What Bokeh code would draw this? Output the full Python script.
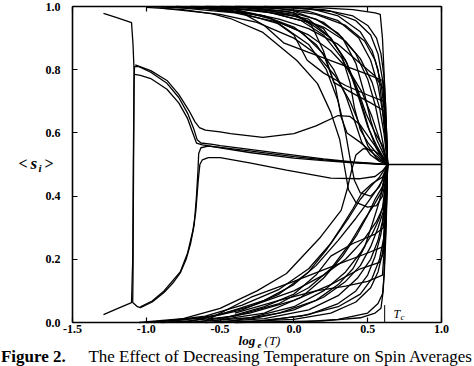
from bokeh.plotting import figure
from bokeh.models import Label, LinearAxis, FixedTicker, Range1d
from bokeh.embed import file_html
from bokeh.resources import INLINE

# ---------------- data ----------------
x_ticks = [-1.5, -1.0, -0.5, 0.0, 0.5, 1.0]
x_tick_labels = ["-1.5", "-1.0", "-0.5", "0.0", "0.5", "1.0"]
y_ticks = [0.0, 0.2, 0.4, 0.6, 0.8, 1.0]
y_tick_labels = ["0.0", "0.2", "0.4", "0.6", "0.8", "1.0"]

# left-hand bifurcation structure
A = [(-1.29,0.978),(-1.20,0.965),(-1.10,0.949),(-1.09,0.88),(-1.083,0.8),(-1.085,0.6),(-1.088,0.35),(-1.09,0.15),(-1.092,0.063),(-1.06,0.05),(-1.04,0.047),(-0.96,0.065),(-0.88,0.095),(-0.82,0.125),(-0.77,0.157),(-0.73,0.2),(-0.70,0.25),(-0.675,0.31),(-0.66,0.4),(-0.65,0.48),(-0.645,0.535),(-0.63,0.553),(-0.58,0.558),(-0.5,0.554),(-0.3,0.543),(0.0,0.525),(0.2,0.515),(0.4,0.507),(0.635,0.5)]
B = [(-1.29,0.025),(-1.20,0.043),(-1.10,0.063),(-1.092,0.2),(-1.088,0.5),(-1.083,0.75),(-1.08,0.81),(-1.05,0.81),(-0.97,0.792),(-0.86,0.757),(-0.78,0.712),(-0.72,0.662),(-0.68,0.615),(-0.655,0.578),(-0.63,0.568),(-0.55,0.564),(-0.5,0.56),(-0.3,0.548),(0.0,0.53),(0.2,0.518),(0.4,0.508),(0.635,0.5)]
C1 = [(-1.075,0.815),(-0.97,0.797),(-0.86,0.766),(-0.78,0.722),(-0.71,0.67),(-0.67,0.635),(-0.64,0.617),(-0.6,0.609),(-0.5,0.603),(-0.43,0.598),(-0.21,0.586),(0.0,0.598),(0.15,0.622),(0.3,0.655),(0.38,0.652),(0.45,0.625),(0.52,0.578),(0.58,0.54),(0.635,0.5)]
C2 = [(-1.08,0.785),(-1.04,0.782),(-0.97,0.772),(-0.86,0.738),(-0.78,0.695),(-0.72,0.645),(-0.685,0.6),(-0.66,0.568),(-0.62,0.562),(-0.5,0.553),(-0.3,0.538),(0.0,0.52),(0.2,0.512),(0.4,0.505),(0.635,0.5)]
D = [(-1.04,0.05),(-0.96,0.068),(-0.88,0.1),(-0.77,0.16),(-0.72,0.22),(-0.685,0.29),(-0.665,0.35),(-0.648,0.45),(-0.637,0.5),(-0.62,0.515),(-0.58,0.522),(-0.5,0.522),(-0.3,0.505),(-0.05,0.482),(0.25,0.457),(0.45,0.455),(0.55,0.462),(0.6,0.48),(0.635,0.5)]

# upper family (spins starting near 1)
U01 = [(-1.0,0.997),(-0.75,0.99),(-0.55,0.977),(-0.43,0.962),(-0.21,0.918),(0.02,0.829),(0.16,0.756),(0.25,0.665),(0.31,0.58),(0.34,0.5),(0.37,0.42),(0.42,0.38),(0.5,0.365),(0.56,0.37),(0.6,0.4),(0.62,0.45),(0.635,0.5)]
U02 = [(-0.95,0.999),(-0.6,0.993),(-0.35,0.978),(-0.1,0.945),(0.1,0.88),(0.22,0.8),(0.3,0.7),(0.35,0.6),(0.38,0.52),(0.41,0.45),(0.45,0.41),(0.52,0.4),(0.58,0.43),(0.615,0.47),(0.635,0.5)]
U03 = [(-0.85,0.999),(-0.5,0.993),(-0.2,0.97),(0.0,0.935),(0.15,0.88),(0.27,0.8),(0.35,0.72),(0.41,0.64),(0.46,0.57),(0.52,0.53),(0.58,0.51),(0.635,0.5)]
U04 = [(-0.8,1.0),(-0.45,0.995),(-0.15,0.98),(0.05,0.955),(0.2,0.91),(0.32,0.84),(0.4,0.77),(0.46,0.69),(0.51,0.61),(0.56,0.55),(0.6,0.52),(0.635,0.5)]
U05 = [(-0.7,1.0),(-0.35,0.996),(-0.05,0.985),(0.15,0.96),(0.3,0.915),(0.42,0.85),(0.5,0.77),(0.55,0.69),(0.59,0.6),(0.615,0.54),(0.635,0.5)]
U06 = [(-0.6,1.0),(-0.2,0.997),(0.1,0.985),(0.3,0.955),(0.44,0.9),(0.52,0.83),(0.57,0.75),(0.6,0.67),(0.62,0.58),(0.635,0.5)]
U07 = [(-0.5,1.0),(0.0,0.996),(0.25,0.985),(0.42,0.955),(0.52,0.91),(0.57,0.85),(0.6,0.77),(0.615,0.68),(0.627,0.58),(0.635,0.5)]
U08 = [(-0.4,1.0),(0.1,0.998),(0.4,0.99),(0.55,0.98),(0.585,0.975),(0.6,0.9),(0.61,0.8),(0.62,0.7),(0.628,0.6),(0.635,0.5)]
U09 = [(-0.9,0.995),(-0.5,0.975),(-0.25,0.95),(0.0,0.9),(0.15,0.85),(0.28,0.78),(0.38,0.7),(0.45,0.62),(0.5,0.56),(0.56,0.52),(0.635,0.5)]
U10 = [(-0.8,0.997),(-0.4,0.98),(-0.1,0.95),(0.1,0.91),(0.25,0.86),(0.37,0.8),(0.46,0.73),(0.53,0.65),(0.58,0.58),(0.61,0.54),(0.635,0.5)]
U11 = [(-0.6,0.998),(-0.3,0.99),(0.0,0.97),(0.2,0.935),(0.35,0.89),(0.45,0.835),(0.53,0.76),(0.58,0.68),(0.61,0.6),(0.635,0.5)]
U12 = [(-0.4,0.999),(-0.1,0.993),(0.15,0.975),(0.35,0.94),(0.48,0.89),(0.55,0.83),(0.59,0.76),(0.615,0.66),(0.635,0.5)]
U13 = [(-0.6,0.995),(-0.35,0.98),(-0.2,0.94),(-0.07,0.885),(0.1,0.855),(0.3,0.82),(0.5,0.785),(0.605,0.765),(0.615,0.7),(0.628,0.6),(0.635,0.5)]
U14 = [(-0.4,0.99),(-0.15,0.96),(0.0,0.91),(0.09,0.83),(0.2,0.79),(0.35,0.75),(0.5,0.72),(0.61,0.7),(0.62,0.64),(0.635,0.5)]
U15 = [(-0.3,0.998),(0.0,0.98),(0.12,0.94),(0.2,0.86),(0.27,0.76),(0.4,0.725),(0.52,0.695),(0.61,0.67),(0.62,0.6),(0.635,0.5)]
U16 = [(-0.2,0.99),(0.1,0.96),(0.25,0.9),(0.35,0.83),(0.43,0.74),(0.49,0.66),(0.55,0.6),(0.6,0.56),(0.635,0.5)]
U17 = [(0.0,0.985),(0.2,0.95),(0.33,0.9),(0.42,0.82),(0.48,0.72),(0.52,0.64),(0.56,0.58),(0.6,0.54),(0.635,0.5)]
U18 = [(-0.5,0.99),(-0.2,0.97),(0.05,0.92),(0.2,0.85),(0.28,0.75),(0.32,0.65),(0.36,0.6),(0.45,0.57),(0.55,0.53),(0.635,0.5)]
U19 = [(-0.3,0.995),(0.0,0.975),(0.2,0.93),(0.32,0.85),(0.38,0.76),(0.41,0.68),(0.45,0.61),(0.5,0.57),(0.57,0.53),(0.635,0.5)]
U20 = [(0.1,0.995),(0.3,0.97),(0.45,0.92),(0.53,0.86),(0.57,0.8),(0.59,0.72),(0.605,0.66),(0.62,0.6),(0.635,0.5)]
U21 = [(-0.2,1.0),(0.2,0.99),(0.4,0.97),(0.5,0.94),(0.56,0.9),(0.59,0.85),(0.61,0.78),(0.622,0.68),(0.635,0.5)]
U22 = [(-0.7,0.998),(-0.4,0.99),(-0.1,0.96),(0.1,0.93),(0.3,0.88),(0.45,0.82),(0.55,0.78),(0.605,0.74),(0.618,0.66),(0.635,0.5)]
U23 = [(-0.5,0.998),(-0.2,0.985),(0.1,0.95),(0.25,0.9),(0.36,0.82),(0.44,0.71),(0.5,0.62),(0.56,0.56),(0.635,0.5)]

# lower family (spins starting near 0)
L01 = [(-1.05,0.0),(-0.75,0.012),(-0.5,0.045),(-0.25,0.1),(-0.05,0.155),(0.18,0.27),(0.32,0.355),(0.36,0.42),(0.39,0.48),(0.42,0.53),(0.47,0.55),(0.54,0.545),(0.6,0.525),(0.635,0.5)]
L02 = [(-0.95,0.0),(-0.6,0.02),(-0.35,0.055),(-0.1,0.105),(0.1,0.17),(0.25,0.25),(0.37,0.33),(0.45,0.39),(0.52,0.43),(0.58,0.46),(0.635,0.5)]
L03 = [(-0.85,0.002),(-0.5,0.025),(-0.2,0.07),(0.0,0.12),(0.15,0.18),(0.3,0.26),(0.42,0.33),(0.5,0.38),(0.56,0.42),(0.6,0.45),(0.635,0.5)]
L04 = [(-0.8,0.001),(-0.4,0.02),(-0.1,0.06),(0.1,0.11),(0.25,0.17),(0.38,0.25),(0.47,0.32),(0.54,0.37),(0.59,0.41),(0.635,0.5)]
L05 = [(-0.7,0.001),(-0.3,0.015),(0.0,0.05),(0.2,0.1),(0.35,0.16),(0.45,0.22),(0.53,0.28),(0.58,0.33),(0.61,0.38),(0.635,0.5)]
L06 = [(-0.6,0.0),(-0.2,0.012),(0.1,0.04),(0.3,0.085),(0.43,0.14),(0.52,0.2),(0.57,0.26),(0.6,0.32),(0.62,0.4),(0.635,0.5)]
L07 = [(-0.5,0.0),(0.0,0.01),(0.25,0.03),(0.42,0.065),(0.52,0.11),(0.57,0.16),(0.6,0.22),(0.617,0.3),(0.628,0.4),(0.635,0.5)]
L08 = [(-0.4,0.0),(0.2,0.005),(0.45,0.015),(0.55,0.03),(0.59,0.045),(0.605,0.1),(0.615,0.2),(0.625,0.33),(0.635,0.5)]
L09 = [(-0.6,0.005),(-0.29,0.08),(0.0,0.13),(0.3,0.185),(0.5,0.22),(0.605,0.24),(0.618,0.35),(0.635,0.5)]
L10 = [(-0.5,0.01),(-0.2,0.05),(0.0,0.09),(0.15,0.15),(0.25,0.21),(0.4,0.25),(0.55,0.28),(0.607,0.3),(0.62,0.4),(0.635,0.5)]
L11 = [(-0.9,0.0),(-0.7,0.004),(-0.35,0.04),(-0.1,0.09),(0.1,0.16),(0.22,0.23),(0.32,0.3),(0.4,0.36),(0.46,0.41),(0.53,0.44),(0.6,0.46),(0.635,0.5)]
L12 = [(-0.45,0.003),(-0.1,0.03),(0.15,0.07),(0.3,0.12),(0.4,0.17),(0.48,0.24),(0.53,0.31),(0.57,0.37),(0.6,0.42),(0.635,0.5)]
L13 = [(-0.3,0.002),(0.05,0.02),(0.3,0.05),(0.45,0.09),(0.53,0.14),(0.58,0.2),(0.61,0.27),(0.625,0.38),(0.635,0.5)]
L14 = [(-0.55,0.005),(-0.2,0.03),(0.05,0.08),(0.2,0.14),(0.33,0.21),(0.43,0.28),(0.5,0.34),(0.55,0.39),(0.6,0.43),(0.635,0.5)]
L15 = [(-0.2,0.005),(0.1,0.025),(0.3,0.06),(0.42,0.1),(0.5,0.15),(0.55,0.21),(0.59,0.28),(0.615,0.36),(0.635,0.5)]
L16 = [(-0.4,0.03),(-0.1,0.07),(0.15,0.1),(0.35,0.115),(0.5,0.13),(0.6,0.15),(0.615,0.25),(0.628,0.38),(0.635,0.5)]
L17 = [(-1.0,0.0),(-0.6,0.015),(-0.3,0.05),(0.0,0.1),(0.2,0.15),(0.35,0.2),(0.47,0.26),(0.56,0.32),(0.6,0.36),(0.635,0.5)]
L18 = [(-0.3,0.01),(0.0,0.04),(0.2,0.08),(0.35,0.13),(0.45,0.18),(0.52,0.24),(0.57,0.3),(0.605,0.35),(0.635,0.5)]
L19 = [(-0.65,0.002),(-0.3,0.03),(0.0,0.07),(0.25,0.12),(0.45,0.17),(0.58,0.19),(0.607,0.22),(0.62,0.33),(0.635,0.5)]
L20 = [(0.0,0.0),(0.3,0.01),(0.5,0.03),(0.57,0.06),(0.6,0.09),(0.612,0.15),(0.625,0.3),(0.635,0.5)]

# high-temperature branch and Tc marker
tail_x = [0.635, 1.0]
tail_y = [0.5, 0.5]
tc_marker_x = [0.615, 0.615]
tc_marker_y = [0.0, 0.055]

curves = [A, B, C1, C2, D,
          U01, U02, U03, U04, U05, U06, U07, U08, U09, U10, U11, U12,
          U13, U14, U15, U16, U17, U18, U19, U20, U21, U22, U23,
          L01, L02, L03, L04, L05, L06, L07, L08, L09, L10,
          L11, L12, L13, L14, L15, L16, L17, L18, L19, L20]

# ---------------- figure ----------------
# the frame fills the whole canvas; the four axes sit at fixed data locations
p = figure(width=474, height=366,
           x_range=Range1d(-1.9878, 1.2236), y_range=Range1d(-0.1392, 1.0190),
           x_axis_type=None, y_axis_type=None,
           output_backend="svg", toolbar_location=None,
           min_border=0, min_border_left=0, min_border_right=0,
           min_border_top=0, min_border_bottom=0)
p.xgrid.visible = False
p.ygrid.visible = False
p.outline_line_color = None

TICK_FONT = "Liberation Serif"

def make_axis(ticks, labels, loc, bounds, show_labels, standoff):
    ax = LinearAxis(fixed_location=loc, bounds=bounds)
    ax.ticker = FixedTicker(ticks=ticks)
    ax.major_label_overrides = {t: l for t, l in zip(ticks, labels)}
    ax.major_tick_in = 5
    ax.major_tick_out = 0
    ax.minor_tick_line_color = None
    ax.axis_line_width = 1.6
    ax.major_tick_line_width = 1.2
    ax.axis_line_color = "black"
    ax.major_tick_line_color = "black"
    ax.major_label_text_font = TICK_FONT
    ax.major_label_text_font_style = "bold"
    ax.major_label_text_font_size = "12px"
    ax.major_label_standoff = standoff
    ax.major_label_text_color = "black" if show_labels else None
    return ax

p.add_layout(make_axis(x_ticks, x_tick_labels, 0.0, (-1.5, 1.0), True, 2), "below")
p.add_layout(make_axis(y_ticks, y_tick_labels, -1.5, (0.0, 1.0), True, 12), "left")
p.add_layout(make_axis(x_ticks, x_tick_labels, 1.0, (-1.5, 1.0), False, 0), "above")
p.add_layout(make_axis(y_ticks, y_tick_labels, 1.0, (0.0, 1.0), False, 0), "right")

for c in curves:
    p.line([pt[0] for pt in c], [pt[1] for pt in c], line_color="black", line_width=1.3)

p.line(tail_x, tail_y, line_color="black", line_width=1.3)
p.line(tc_marker_x, tc_marker_y, line_color="black", line_width=1.0)

# ---------------- texts ----------------
def lab(x, y, text, size, style="normal", xoff=0, yoff=0, align="left", font="Liberation Serif"):
    p.add_layout(Label(x=x, y=y, text=text, x_offset=xoff, y_offset=yoff,
                       text_font=font, text_font_size=size, text_font_style=style,
                       text_align=align, text_baseline="middle", text_color="black"))

# Tc label
lab(0.675, 0.028, "T", "12px", "italic")
lab(0.675, 0.028, "c", "9px", "italic", xoff=7, yoff=-3)

# y label  <s_i>
lab(-1.866, 0.503, "<", "16px", "bold")
lab(-1.866, 0.503, "s", "17px", "bold italic", xoff=12)
lab(-1.866, 0.503, "i", "11px", "bold italic", xoff=20, yoff=-4)
lab(-1.866, 0.503, ">", "16px", "bold", xoff=26)

# x label  log_e(T)
lab(-0.375, -0.057, "log", "13px", "bold italic")
lab(-0.375, -0.057, "e", "9px", "bold italic", xoff=19, yoff=-4)
lab(-0.375, -0.057, "(T)", "13px", "italic", xoff=26)

# caption
lab(-1.985, -0.108, "Figure 2.", "17px", "bold")
lab(-1.392, -0.108, "The Effect of Decreasing Temperature on Spin Averages", "17px")

open("out.html", "w").write(file_html(p, INLINE))
